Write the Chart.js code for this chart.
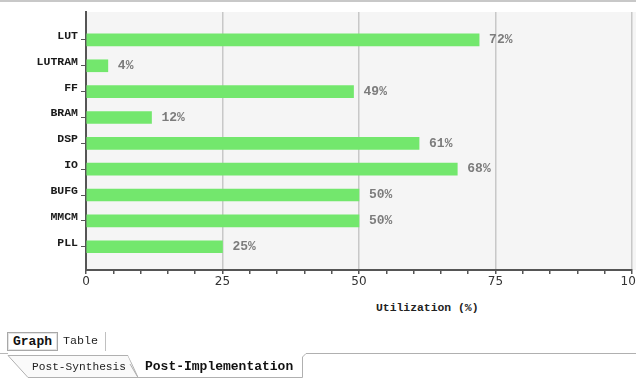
<!DOCTYPE html>
<html>
<head>
<meta charset="utf-8">
<script src="https://cdn.jsdelivr.net/npm/chart.js@4.4.1/dist/chart.umd.min.js"></script>
<style>
  html, body { margin: 0; padding: 0; background: #fff; width: 636px; height: 379px; overflow: hidden; }
  #wrap { position: relative; width: 636px; height: 379px; overflow: hidden; }
  #topline { position: absolute; left: 0; top: 0; width: 636px; height: 2px; background: #c8c8c8; }
  #chartBox { position: absolute; left: 0; top: 0; width: 700px; height: 300px; }
  #xtitle { position: absolute; left: 376px; top: 302px; font: bold 11.4px "Liberation Mono", monospace; color: #222; white-space: pre; }
  .mono { font-family: "Liberation Mono", monospace; white-space: pre; position: absolute; }
  #graphBtn { left: 7px; top: 332px; width: 49px; height: 17px; border: 1px solid #a8a8a8; box-shadow: inset 0 0 0 1px #e4e4e4; background: #fff; font-weight: bold; font-size: 13px; color: #111; line-height: 17px; text-align: center; }
  #tableBtn { left: 63px; top: 332px; height: 19px; line-height: 19px; font-size: 11.7px; color: #222; }
  #sep { position: absolute; left: 105px; top: 332px; width: 1px; height: 19px; background: #c0c0c0; }
  #tabSyn { left: 32px; top: 359px; font-size: 11.2px; color: #222; line-height: 16px; }
  #tabImp { left: 145px; top: 359px; font-size: 13px; font-weight: bold; color: #111; line-height: 16px; }
  svg { position: absolute; left: 0; top: 0; }
</style>
</head>
<body>
<div id="wrap">
  <div id="chartBox"><canvas id="c" width="700" height="300"></canvas></div>
  <div id="topline"></div>
  <div id="xtitle">Utilization (%)</div>
  <svg width="636" height="379">
    <polyline points="0,353.5 8,353.5" fill="none" stroke="#b8b8b8" stroke-width="1"/>
    <polygon points="8,355.5 128,355.5 138,377.5 28,377.5" fill="#fafafa" stroke="#b0b0b0" stroke-width="1"/>
    <polygon points="128,355.5 130,355.5 130,353.5 300,353.5 302.5,356 302.5,377.5 140,377.5" fill="#fff" stroke="none"/>
    <polyline points="130,364 138,377.5 302.5,377.5 302.5,357 306,353.5 636,353.5" fill="none" stroke="#b0b0b0" stroke-width="1"/>
  </svg>
  <div id="graphBtn" class="mono">Graph</div>
  <div id="tableBtn" class="mono">Table</div>
  <div id="sep"></div>
  <div id="tabSyn" class="mono">Post-Synthesis</div>
  <div id="tabImp" class="mono">Post-Implementation</div>
</div>
<script>
const categories = ["LUT", "LUTRAM", "FF", "BRAM", "DSP", "IO", "BUFG", "MMCM", "PLL"];
const utilization = [72, 4, 49, 12, 61, 68, 50, 50, 25];
const xTickLabels = [0, 25, 50, 75, 100];

const points = categories.map((name, i) => ({ x: utilization[i], y: i }));

const bgPlugin = {
  id: 'plotBg',
  beforeDraw(chart) {
    const { ctx, chartArea } = chart;
    ctx.save();
    ctx.fillStyle = '#f5f5f5';
    ctx.fillRect(chartArea.left, chartArea.top, chart.width - chartArea.left, chartArea.bottom - chartArea.top);
    ctx.restore();
  }
};

const valueLabels = {
  id: 'valueLabels',
  afterDatasetsDraw(chart) {
    const { ctx } = chart;
    const meta = chart.getDatasetMeta(0);
    ctx.save();
    ctx.font = 'bold 13px "Liberation Mono", monospace';
    ctx.fillStyle = '#7c7c7c';
    ctx.textBaseline = 'middle';
    ctx.textAlign = 'left';
    meta.data.forEach((bar, i) => {
      ctx.fillText(utilization[i] + '%', bar.x + 10, bar.y);
    });
    ctx.restore();
  }
};

new Chart(document.getElementById('c'), {
  type: 'bar',
  data: {
    datasets: [{
      data: points,
      backgroundColor: '#73e76d',
      borderWidth: 0,
      barThickness: 12
    }]
  },
  options: {
    indexAxis: 'y',
    responsive: false,
    animation: false,
    events: [],
    layout: { padding: { left: 0, top: 12, right: 68, bottom: 0 } },
    plugins: { legend: { display: false }, tooltip: { enabled: false } },
    scales: {
      x: {
        type: 'linear',
        min: 0, max: 100,
        offset: false,
        afterFit(scale) { scale.height = 30; },
        afterBuildTicks(scale) {
          const t = [];
          for (let v = 0; v <= 100; v += 5) t.push({ value: v });
          scale.ticks = t;
        },
        ticks: {
          autoSkip: false, maxRotation: 0, padding: 1,
          color: '#333',
          font: { family: '"DejaVu Sans", sans-serif', size: 12 },
          callback: (v) => xTickLabels.includes(v) ? String(v) : ''
        },
        grid: {
          offset: false,
          drawOnChartArea: true,
          drawTicks: true,
          tickLength: 4,
          tickColor: '#555',
          lineWidth: 1.5,
          color: (c) => (c.tick && c.tick.value > 0 && xTickLabels.includes(c.tick.value)) ? '#c8c8c8' : 'rgba(0,0,0,0)'
        },
        border: { display: true, color: '#555', width: 2 }
      },
      y: {
        type: 'linear',
        reverse: true,
        offset: false,
        min: -1.08, max: 8.9,
        afterFit(scale) { scale.width = 86; },
        afterBuildTicks(scale) {
          scale.ticks = categories.map((_, i) => ({ value: i }));
        },
        ticks: {
          autoSkip: false, padding: 3,
          labelOffset: -4,
          color: '#1a1a1a',
          font: { family: '"Liberation Mono", monospace', size: 11.5, weight: 'bold' },
          callback: (v) => categories[v] !== undefined ? categories[v] : ''
        },
        grid: {
          offset: false,
          drawOnChartArea: false,
          drawTicks: true,
          tickLength: 5,
          tickColor: '#555'
        },
        border: { display: true, color: '#555', width: 2 }
      }
    }
  },
  plugins: [bgPlugin, valueLabels]
});
</script>
</body>
</html>
